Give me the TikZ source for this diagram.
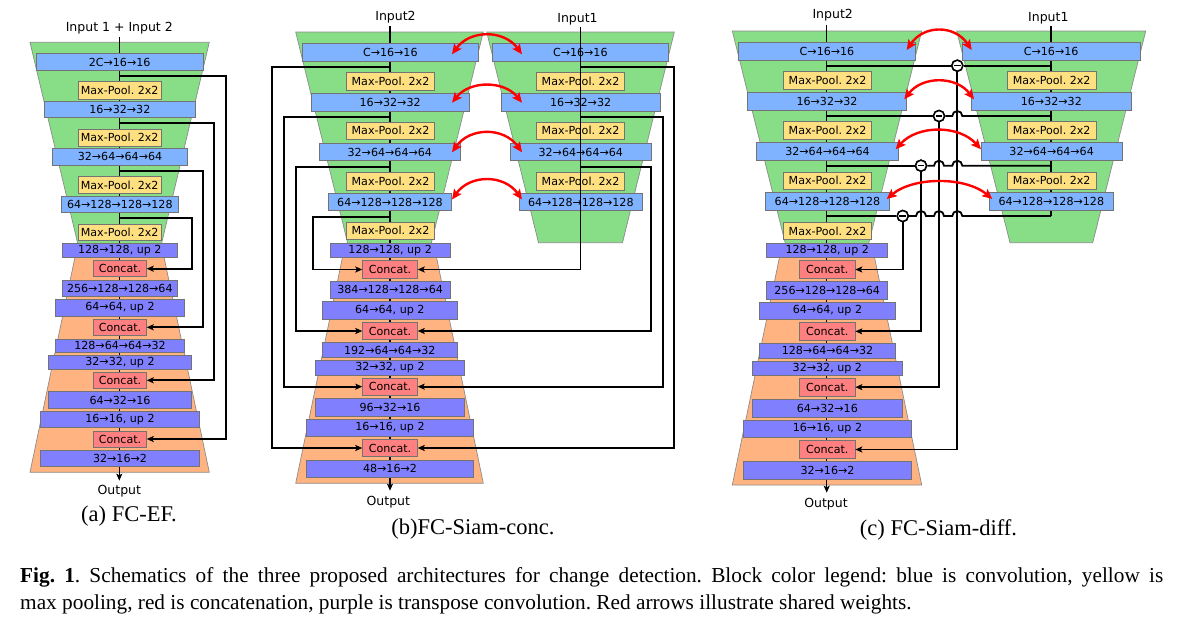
\documentclass[tikz,border=0pt]{standalone}
\usepackage{fontspec}
\setmainfont{Liberation Serif}
\newfontfamily\dv{DejaVu Sans}
\usetikzlibrary{arrows.meta,calc}
\definecolor{cgreen}{HTML}{87DE87}
\definecolor{cblue}{HTML}{80B3FF}
\definecolor{cyel}{HTML}{FFE080}
\definecolor{cpur}{HTML}{8080FF}
\definecolor{cred}{HTML}{FF8080}
\definecolor{corg}{HTML}{FFB380}
\frenchspacing
\newcommand\blk[7]{\node[#2, minimum width={#5-#3}, minimum height={#6-#4}] (#1) at ({(#3+#5)/2},{(#4+#6)/2}) {#7};}
\begin{document}
\begin{tikzpicture}[x=1pt,y=-1pt,
  box/.style={draw=black!55, line width=0.6pt, inner sep=0pt, outer sep=0pt, font=\dv\fontsize{11.1}{13}\selectfont, text=black},
  conv/.style={box, fill=cblue},
  pool/.style={box, fill=cyel},
  upc/.style={box, fill=cpur},
  cat/.style={box, fill=cred},
  trapg/.style={draw=black!45, line width=0.7pt, fill=cgreen},
  trapo/.style={draw=black!45, line width=0.7pt, fill=corg},
  trunk/.style={line width=1.4pt},
  skip/.style={line width=1.8pt},
  arr/.style={-{Stealth[length=7pt,width=6pt,inset=1.5pt]}},
  shared/.style={red, line width=2.4pt, {Stealth[length=10pt,width=9pt,inset=2pt]}-{Stealth[length=10pt,width=9pt,inset=2pt]}},
  io/.style={font=\dv\fontsize{12.5}{15}\selectfont, inner sep=0pt, anchor=base},
  subcap/.style={font=\fontsize{22.5}{27}\selectfont, inner sep=0pt, anchor=base},
  capt/.style={font=\fontsize{21.3}{26}\selectfont, inner sep=0pt, anchor=base west},
  diffc/.style={circle, draw, line width=1.5pt, fill=white, minimum size=11pt, inner sep=0pt,
    path picture={\draw[line width=1.5pt] ([xshift=-3.3pt]path picture bounding box.center) -- ([xshift=3.3pt]path picture bounding box.center);}}
]
\useasboundingbox (0,0) rectangle (1184,621);
\fill[white] (0,0) rectangle (1184,621);

% ---------------- trapezoids
\fill[trapo] (76.5,250) -- (162.5,250) -- (209.3,472.3) -- (30,472.3) -- cycle;
\fill[trapg] (30,42.3) -- (209.3,42.3) -- (160,250) -- (79.3,250) -- cycle;
\fill[trapo] (344,250) -- (435,250) -- (483.3,483.3) -- (295.7,483.3) -- cycle;
\fill[trapg] (295.7,32) -- (483.3,32) -- (429.6,250) -- (349.4,250) -- cycle;
\fill[trapg] (486.7,32) -- (674.3,32) -- (622.5,242.7) -- (538.5,242.7) -- cycle;
\fill[trapo] (781,250) -- (873,250) -- (921.7,485) -- (732.3,485) -- cycle;
\fill[trapg] (732.3,31) -- (921.7,31) -- (867,250) -- (787,250) -- cycle;
\fill[trapg] (956.7,31) -- (1145.7,31) -- (1092.7,242.7) -- (1010,242.7) -- cycle;

% ---------------- labels
\node[io] (inA) at (119.3,31) {Input 1 + Input 2};
\node[io] (inB2) at (395.5,20) {Input2};
\node[io] (inB1) at (577.5,22.7) {Input1};
\node[io] (inC2) at (832.7,18.5) {Input2};
\node[io] (inC1) at (1048.3,21) {Input1};
\node[io] (outA) at (119.3,494) {Output};
\node[io] (outB) at (388.3,505.5) {Output};
\node[io] (outC) at (826,507.5) {Output};

% ---------------- trunks
\coordinate (ta0) at (119.3,36.7); \coordinate (ta1) at (119.3,480.7);
\coordinate (tb0) at (390,26); \coordinate (tb1) at (390,490.7);
\coordinate (tr0) at (580.7,26.7);
\coordinate (tc0) at (826.7,25); \coordinate (tc1) at (826.7,492.7);
\coordinate (ts0) at (1051,26); \coordinate (ts1) at (1051,216);
\draw[trunk,arr] (ta0) -- (ta1);
\draw[trunk,arr] (tb0) -- (tb1);
\draw[trunk,arr] (tc0) -- (tc1);
\draw[trunk] (ts0) -- (ts1);

% ---------------- panel (a) boxes
\blk{A1}{conv}{36}{53.3}{203.3}{70.7}{2C→16→16}
\blk{Ap1}{pool}{78}{81}{161.3}{99}{Max-Pool. 2x2}
\blk{A2}{conv}{44}{101}{195.7}{117.7}{16→32→32}
\blk{Ap2}{pool}{78}{129}{161.3}{146.3}{Max-Pool. 2x2}
\blk{A3}{conv}{52.7}{148.3}{187.3}{165.3}{32→64→64→64}
\blk{Ap3}{pool}{78}{176.7}{161.3}{193.3}{Max-Pool. 2x2}
\blk{A4}{conv}{61}{196}{178.7}{212.7}{64→128→128→128}
\blk{Ap4}{pool}{78}{224}{161.3}{240.7}{Max-Pool. 2x2}
\blk{Au4}{upc}{62.3}{243.3}{177.3}{257.3}{128→128, up 2}
\blk{Ac4}{cat}{93.3}{260.7}{146.7}{276.7}{Concat.}
\blk{Ad4}{upc}{62.3}{280}{177.3}{296.7}{256→128→128→64}
\blk{Au3}{upc}{55.7}{299.3}{184.3}{316}{64→64, up 2}
\blk{Ac3}{cat}{93.3}{319.3}{146.7}{335.3}{Concat.}
\blk{Ad3}{upc}{55.7}{339}{184.3}{352.3}{128→64→64→32}
\blk{Au2}{upc}{48.7}{355.3}{191.3}{369}{32→32, up 2}
\blk{Ac2}{cat}{93.3}{372.3}{146.7}{388.3}{Concat.}
\blk{Ad2}{upc}{48.7}{391.7}{191.3}{408.3}{64→32→16}
\blk{Au1}{upc}{40.7}{411}{199.3}{427.7}{16→16, up 2}
\blk{Ac1}{cat}{93.3}{431}{146.7}{447}{Concat.}
\blk{Ad1}{upc}{40.7}{450.7}{199.3}{466.7}{32→16→2}

% skips (a)
\coordinate (as1) at (119.3,75.7);  \coordinate (ak1) at (225.7,75.7);
\coordinate (as2) at (119.3,123.3); \coordinate (ak2) at (214.3,123.3);
\coordinate (as3) at (119.3,171);   \coordinate (ak3) at (203.3,171);
\coordinate (as4) at (119.3,218.3); \coordinate (ak4) at (192.3,218.3);
\draw[skip,arr] (as1) -- (ak1) |- (Ac1.east);
\draw[skip,arr] (as2) -- (ak2) |- (Ac2.east);
\draw[skip,arr] (as3) -- (ak3) |- (Ac3.east);
\draw[skip,arr] (as4) -- (ak4) |- (Ac4.east);

% ---------------- panel (b) boxes
\blk{B1}{conv}{302.3}{43.3}{478.3}{61}{C→16→16}
\blk{Bp1}{pool}{346.7}{72.7}{434.3}{90}{Max-Pool. 2x2}
\blk{B2}{conv}{311}{93.7}{469.3}{111}{16→32→32}
\blk{Bp2}{pool}{346.7}{122.3}{434.3}{139.3}{Max-Pool. 2x2}
\blk{B3}{conv}{319.3}{143.3}{460.3}{160.7}{32→64→64→64}
\blk{Bp3}{pool}{346.7}{172.7}{434.3}{190}{Max-Pool. 2x2}
\blk{B4}{conv}{328.3}{193.3}{451.7}{210.7}{64→128→128→128}
\blk{Bp4}{pool}{346.7}{222.3}{434.3}{239}{Max-Pool. 2x2}
\blk{Bu4}{upc}{330}{243.3}{450.3}{257.3}{128→128, up 2}
\blk{Bc4}{cat}{362.3}{260.7}{417.7}{278.3}{Concat.}
\blk{Bd4}{upc}{330}{281}{450.3}{298.7}{384→128→128→64}
\blk{Bu3}{upc}{322.3}{301.7}{457.3}{319.3}{64→64, up 2}
\blk{Bc3}{cat}{362.3}{322.7}{417.7}{339.3}{Concat.}
\blk{Bd3}{upc}{322.3}{342.7}{457.3}{357.3}{192→64→64→32}
\blk{Bu2}{upc}{315.3}{360}{464.7}{375}{32→32, up 2}
\blk{Bc2}{cat}{362.3}{378.3}{417.7}{395}{Concat.}
\blk{Bd2}{upc}{315.3}{398.7}{464.7}{416}{96→32→16}
\blk{Bu1}{upc}{306.7}{419.3}{473.3}{436}{16→16, up 2}
\blk{Bc1}{cat}{362.3}{439.3}{417.7}{456.7}{Concat.}
\blk{Bd1}{upc}{306.7}{460}{473.3}{477.3}{48→16→2}
\blk{R1}{conv}{492.3}{43.3}{668.3}{61}{C→16→16}
\blk{Rp1}{pool}{536.7}{72.7}{624.3}{90}{Max-Pool. 2x2}
\blk{R2}{conv}{501.3}{93.7}{660}{111}{16→32→32}
\blk{Rp2}{pool}{536.7}{122.3}{624.3}{139.3}{Max-Pool. 2x2}
\blk{R3}{conv}{510.3}{143.3}{651.3}{160.7}{32→64→64→64}
\blk{Rp3}{pool}{536.7}{172.7}{624.3}{190}{Max-Pool. 2x2}
\blk{R4}{conv}{519.3}{193.3}{642.3}{210.7}{64→128→128→128}

% skips (b)
\coordinate (bs1) at (390,66.7);  \coordinate (bk1) at (272.3,66.7);
\coordinate (bs2) at (390,116.7); \coordinate (bk2) at (284,116.7);
\coordinate (bs3) at (390,166.7); \coordinate (bk3) at (295.7,166.7);
\coordinate (bs4) at (390,216.7); \coordinate (bk4) at (313.3,216.7);
\coordinate (rs1) at (580.7,66.7);  \coordinate (rk1) at (674.3,66.7);
\coordinate (rs2) at (580.7,116.7); \coordinate (rk2) at (662.7,116.7);
\coordinate (rs3) at (580.7,166.7); \coordinate (rk3) at (650.7,166.7);
\draw[skip,arr] (bs1) -- (bk1) |- (Bc1.west);
\draw[skip,arr] (bs2) -- (bk2) |- (Bc2.west);
\draw[skip,arr] (bs3) -- (bk3) |- (Bc3.west);
\draw[skip,arr] (bs4) -- (bk4) |- (Bc4.west);
\draw[skip,arr] (rs1) -- (rk1) |- (Bc1.east);
\draw[skip,arr] (rs2) -- (rk2) |- (Bc2.east);
\draw[skip,arr] (rs3) -- (rk3) |- (Bc3.east);
\draw[trunk,arr] (tr0) |- (Bc4.east);

% ---------------- panel (c) boxes
\blk{C1}{conv}{738.3}{42.3}{915.7}{60}{C→16→16}
\blk{Cp1}{pool}{783.3}{71.7}{871.7}{89.3}{Max-Pool. 2x2}
\blk{C2}{conv}{747.3}{92.7}{906.7}{110.3}{16→32→32}
\blk{Cp2}{pool}{783.3}{121.7}{871.7}{139.3}{Max-Pool. 2x2}
\blk{C3}{conv}{756.7}{142.7}{898.3}{160.3}{32→64→64→64}
\blk{Cp3}{pool}{783.3}{172.3}{871.7}{189.3}{Max-Pool. 2x2}
\blk{C4}{conv}{765.7}{192.7}{889.3}{210.3}{64→128→128→128}
\blk{Cp4}{pool}{783.3}{222.7}{871.7}{239.3}{Max-Pool. 2x2}
\blk{Cu4}{upc}{766.7}{243.3}{887.7}{257.3}{128→128, up 2}
\blk{Cc4}{cat}{799.3}{260.7}{855.3}{278.3}{Concat.}
\blk{Cd4}{upc}{766.7}{281.7}{887.7}{299}{256→128→128→64}
\blk{Cu3}{upc}{759.3}{302.3}{895.7}{319.3}{64→64, up 2}
\blk{Cc3}{cat}{799.3}{322.7}{855.3}{340}{Concat.}
\blk{Cd3}{upc}{759.3}{343.3}{895.7}{358.3}{128→64→64→32}
\blk{Cu2}{upc}{752}{361}{902.7}{375.7}{32→32, up 2}
\blk{Cc2}{cat}{799.3}{378.3}{855.3}{396}{Concat.}
\blk{Cd2}{upc}{752}{399.3}{902.7}{417}{64→32→16}
\blk{Cu1}{upc}{743.3}{420.3}{911.7}{437.7}{16→16, up 2}
\blk{Cc1}{cat}{799.3}{440.7}{855.3}{458.3}{Concat.}
\blk{Cd1}{upc}{743.3}{461.7}{911.7}{479}{32→16→2}
\blk{S1}{conv}{962.3}{42.3}{1140}{60}{C→16→16}
\blk{Sp1}{pool}{1007.3}{71.7}{1096}{89.3}{Max-Pool. 2x2}
\blk{S2}{conv}{971.7}{92.7}{1131}{110.3}{16→32→32}
\blk{Sp2}{pool}{1007.3}{121.7}{1096}{139.3}{Max-Pool. 2x2}
\blk{S3}{conv}{981}{142.7}{1122.3}{160.3}{32→64→64→64}
\blk{Sp3}{pool}{1007.3}{172.3}{1096}{189.3}{Max-Pool. 2x2}
\blk{S4}{conv}{989.3}{192.7}{1113.3}{210.3}{64→128→128→128}

% difference skips (c)
\node[diffc] (m1) at (957.3,65.7) {};
\node[diffc] (m2) at (939,116) {};
\node[diffc] (m3) at (921,165.7) {};
\node[diffc] (m4) at (902.7,216) {};
\coordinate (cl1) at (826.7,65.7); \coordinate (cr1) at (1051,65.7);
\coordinate (cl2) at (826.7,116);  \coordinate (cr2) at (1051,116);
\coordinate (cl3) at (826.7,165.7); \coordinate (cr3) at (1051,165.7);
\coordinate (cl4) at (826.7,216);  \coordinate (cr4) at (1051,216);
\draw[skip] (cl1) -- (m1.west);
\draw[skip] (m1.east) -- (cr1);
\draw[skip] (cl2) -- (m2.west);
\draw[skip] (m2.east) -- ($(m1|-m2)+(-5,0)$) arc[start angle=180,end angle=0,radius=5pt] -- (cr2);
\draw[skip] (cl3) -- (m3.west);
\draw[skip] (m3.east) -- ($(m2|-m3)+(-5,0)$) arc[start angle=180,end angle=0,radius=5pt]
  -- ($(m1|-m3)+(-5,0)$) arc[start angle=180,end angle=0,radius=5pt] -- (cr3);
\draw[skip] (cl4) -- (m4.west);
\draw[skip] (m4.east) -- ($(m3|-m4)+(-5,0)$) arc[start angle=180,end angle=0,radius=5pt]
  -- ($(m2|-m4)+(-5,0)$) arc[start angle=180,end angle=0,radius=5pt]
  -- ($(m1|-m4)+(-5,0)$) arc[start angle=180,end angle=0,radius=5pt] -- (cr4);
\draw[skip,arr] (m1.south) |- (Cc1.east);
\draw[skip,arr] (m2.south) |- (Cc2.east);
\draw[skip,arr] (m3.south) |- (Cc3.east);
\draw[skip,arr] (m4.south) |- (Cc4.east);
\node[diffc] (m1top) at (m1) {};
\node[diffc] (m2top) at (m2) {};
\node[diffc] (m3top) at (m3) {};
\node[diffc] (m4top) at (m4) {};

% ---------------- shared-weight arrows
\coordinate (bl1) at (452,54.3);  \coordinate (br1) at (522,54.3);
\coordinate (bl2) at (452,102.7); \coordinate (br2) at (522,102.7);
\coordinate (bl3) at (452,152.3); \coordinate (br3) at (522,152.3);
\coordinate (bl4) at (452,199.5); \coordinate (br4) at (522,199.5);
\draw[shared] (bl1) .. controls +(18,-24.8) and +(-18,-24.8) .. (br1);
\draw[shared] (bl2) .. controls +(18,-22.3) and +(-18,-22.3) .. (br2);
\draw[shared] (bl3) .. controls +(18,-25.3) and +(-18,-25.3) .. (br3);
\draw[shared] (bl4) .. controls +(18,-25.3) and +(-18,-25.3) .. (br4);
\coordinate (cal1) at (906.7,50);  \coordinate (car1) at (971.7,50);
\coordinate (cal2) at (904.3,99.3); \coordinate (car2) at (974,99.3);
\coordinate (cal3) at (895.7,149.3); \coordinate (car3) at (981,149.3);
\coordinate (cal4) at (886.7,199); \coordinate (car4) at (992.3,199);
\draw[shared] (cal1) .. controls +(17,-25.3) and +(-17,-25.3) .. (car1);
\draw[shared] (cal2) .. controls +(18,-23.5) and +(-18,-23.5) .. (car2);
\draw[shared] (cal3) .. controls +(22,-24.5) and +(-22,-24.5) .. (car3);
\draw[shared] (cal4) .. controls +(27,-22.5) and +(-27,-22.5) .. (car4);

% ---------------- captions
\node[subcap] (capa) at (129,521) {(a) FC-EF.};
\node[subcap] (capb) at (473,534) {(b)FC-Siam-conc.};
\node[subcap] (capc) at (938.5,535) {(c) FC-Siam-diff.};
\node[capt] (cap1) at (20,582) {\makebox[1143pt][s]{\textbf{Fig. 1}. Schematics of the three proposed architectures for change detection. Block color legend: blue is convolution, yellow is}};
\node[capt] (cap2) at (20,609) {max pooling, red is concatenation, purple is transpose convolution. Red arrows illustrate shared weights.};
\end{tikzpicture}
\end{document}
